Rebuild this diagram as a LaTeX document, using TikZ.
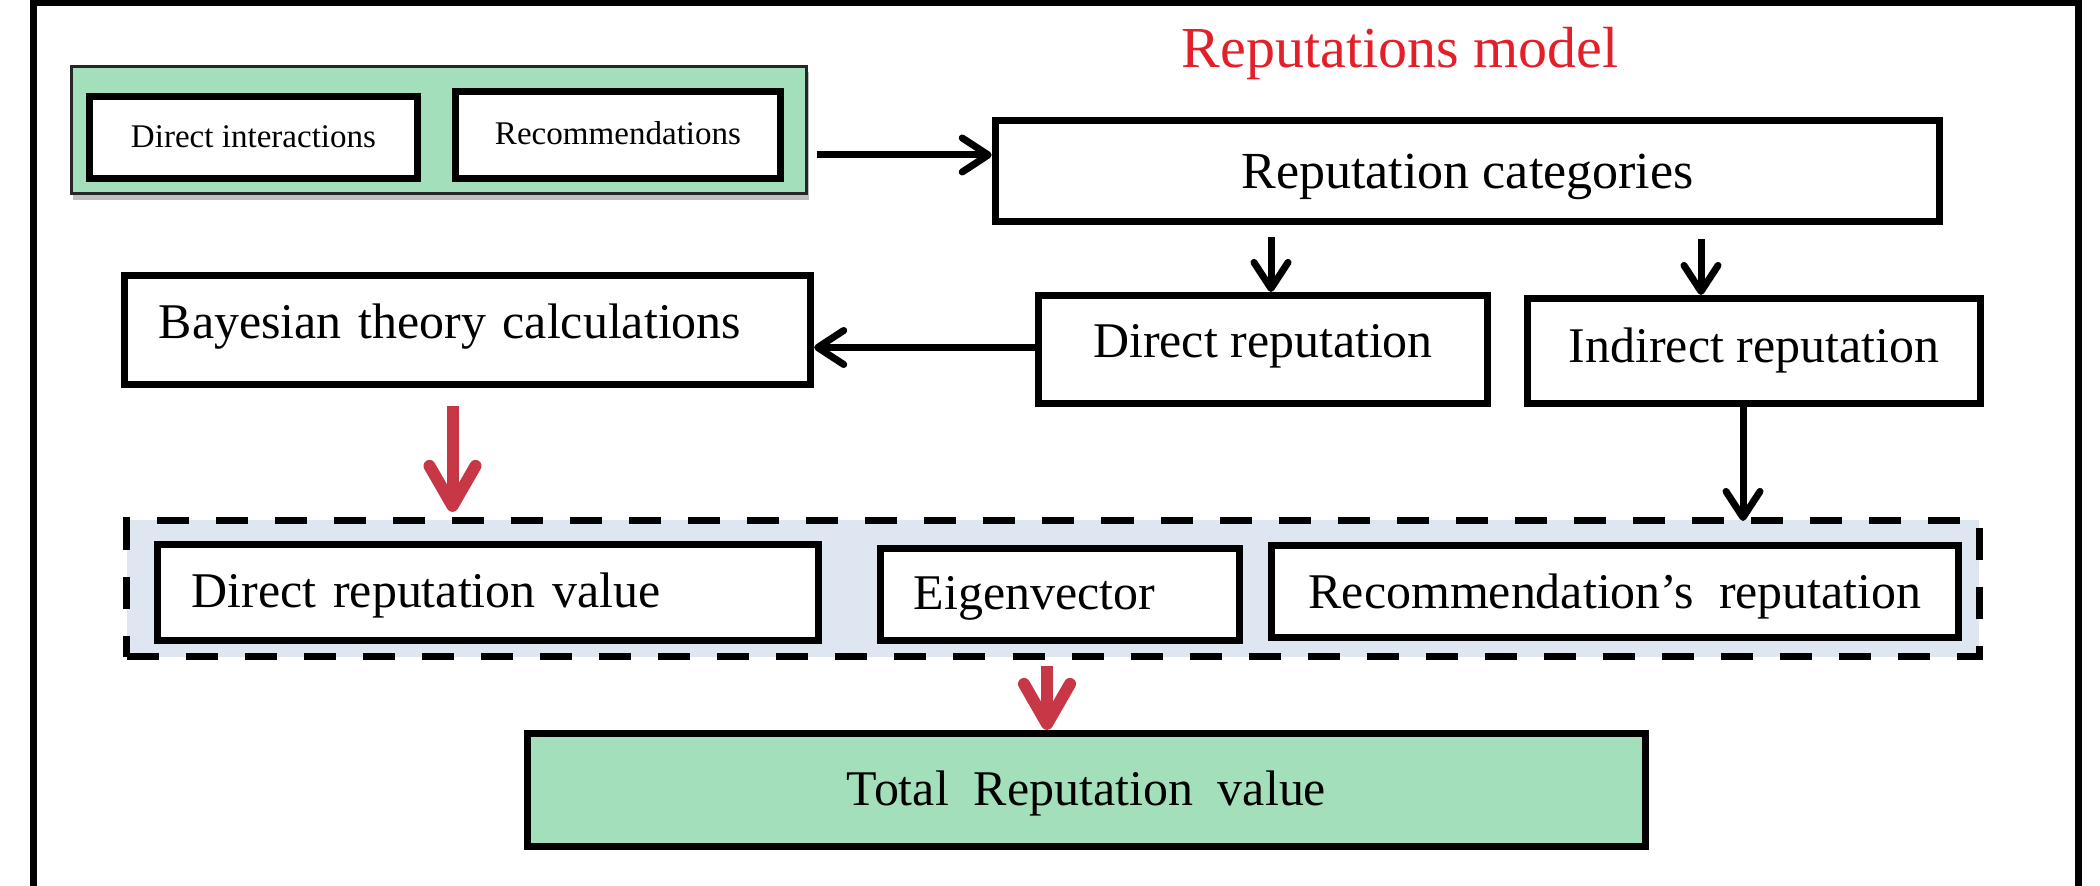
\documentclass[tikz,border=0pt]{standalone}
\usepackage{fontspec}
\setmainfont{Liberation Serif}
\usetikzlibrary{arrows.meta,calc,shadows}
\definecolor{grpgreen}{HTML}{A4DFBC}
\definecolor{grpblue}{HTML}{DEE6F1}
\definecolor{arrred}{HTML}{C83746}
\definecolor{titlered}{HTML}{E3202A}
\begin{document}
\begin{tikzpicture}[x=0.01cm,y=-0.01cm,
  box/.style={draw=black, line width=0.07cm, fill=white, inner sep=0pt},
  body/.style={font=\fontsize{14.2}{17}\selectfont, text depth=4pt},
  small/.style={font=\fontsize{9.4}{11}\selectfont, text depth=4pt, text height=9.5pt},
  arr/.style={draw=black, line width=0.07cm, -{Straight Barb[round,length=0.26cm,width=0.34cm]}},
  redarr/.style={draw=arrred, line width=0.12cm, -{Straight Barb[round,length=0.4cm,width=0.46cm]}},
]
\useasboundingbox (0,0) rectangle (2100,886);
\fill[white] (0,0) rectangle (2100,886);
\draw[line width=0.07cm] (33.5,892) -- (33.5,3) -- (2078,3) -- (2078,892);

% title
\node[text=titlered, font=\fontsize{16.5}{20}\selectfont, anchor=base, inner sep=0pt] (title) at (1400,68) {Reputations model};

% input group
\node[draw=black!85, line width=0.03cm, fill=grpgreen, minimum width=7.35cm, minimum height=1.27cm, inner sep=0pt,
      drop shadow={shadow xshift=0.02cm, shadow yshift=-0.06cm, fill=black, opacity=0.25}] (grp) at (439,130) {};
\node[box, small, minimum width=3.28cm, minimum height=0.82cm] (di) at (253.5,137.5) {Direct interactions};
\node[box, small, minimum width=3.25cm, minimum height=0.87cm] (rec) at (618,135) {Recommendations};

% categories
\node[box, font=\fontsize{14.8}{18}\selectfont, text depth=4pt, text height=14.2pt, minimum width=9.44cm, minimum height=1.01cm] (cat) at (1467.5,171) {Reputation categories};

% second row
\node[box, body, text height=9.1pt, minimum width=6.86cm, minimum height=1.09cm, inner xsep=0.345cm, text width=6.17cm, align=left] (bay) at (467.5,330) {Bayesian theory calculations};
\node[box, body, text height=8.8pt, minimum width=4.49cm, minimum height=1.08cm] (dr) at (1263,349.5) {Direct reputation};
\node[box, body, text height=10.3pt, minimum width=4.53cm, minimum height=1.05cm] (ir) at (1754,351) {Indirect reputation};

% dashed group
\node[draw=black, line width=0.07cm, dash pattern=on 0.32cm off 0.27cm, fill=grpblue, minimum width=18.51cm, minimum height=1.36cm, inner sep=0pt] (grp2) at (1053,588.5) {};
\node[box, body, text height=12.8pt, minimum width=6.61cm, minimum height=0.96cm, inner xsep=0.345cm, text width=5.92cm, align=left] (drv) at (488,592.5) {Direct reputation value};
\node[box, body, text height=12.8pt, minimum width=3.59cm, minimum height=0.92cm, inner xsep=0.335cm, text width=2.92cm, align=left] (eig) at (1060,594.5) {Eigenvector};
\node[box, body, text height=13.4pt, minimum width=6.87cm, minimum height=0.92cm] (rr) at (1615,591.5) {Recommendation’s\ \ reputation};

% total
\node[box, body, fill=grpgreen, text height=13.1pt, minimum width=11.18cm, minimum height=1.13cm] (tot) at (1086.5,790) {Total\ \ Reputation\ \ value};

% connectors
\coordinate (a1) at ($(grp.east)+(9,25)$);
\draw[arr] (a1) -- (a1 -| cat.west);

\coordinate (t1) at ($(dr.north)+(8,0)$);
\draw[arr] ($(cat.south -| t1)+(0,12)$) -- (t1);

\coordinate (t2) at ($(ir.north)+(-53,0)$);
\draw[arr] ($(cat.south -| t2)+(0,14)$) -- (t2);

\draw[arr] ($(dr.west)+(0,-2)$) -- ($(dr.west -| bay.east)+(0,-2)$);

\coordinate (t3) at ($(grp2.north -| bay.south)+(-15,-5)$);
\draw[redarr] ($(bay.south)+(-15,18)$) -- (t3);

\coordinate (t4) at ($(ir.south)+(-11,0)$);
\draw[arr] (t4) -- ($(grp2.north -| t4)+(0,4)$);

\coordinate (t5) at ($(grp2.south)+(-6,6)$);
\draw[redarr] (t5) -- (t5 |- tot.north);
\end{tikzpicture}
\end{document}
